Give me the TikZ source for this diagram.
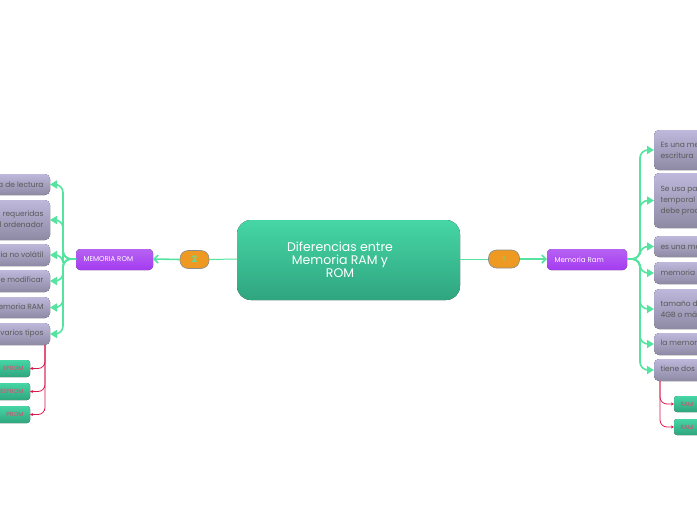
\documentclass[tikz,border=0pt]{standalone}
\usepackage{fontspec}
\setmainfont{Poppins}
\usetikzlibrary{arrows.meta,calc}
\definecolor{gline}{HTML}{55E3A0}
\definecolor{rline}{HTML}{D8194A}
\definecolor{purp}{HTML}{A43BF0}
\definecolor{lavt}{HTML}{BEB8DC}
\definecolor{lavb}{HTML}{8E89A3}
\definecolor{cgt}{HTML}{46D6A6}
\definecolor{cgb}{HTML}{2FA57E}
\definecolor{orng}{HTML}{EE9A22}
\tikzset{
  x=1pt,y=-1pt,
  childbox/.style={rounded corners=5pt,top color=lavt,bottom color=lavb,draw=none},
  ctext/.style={font=\fontsize{7.5}{11}\selectfont,text=black!65,align=left},
  mainbox/.style={rounded corners=4pt,top color=purp!80,bottom color=purp,draw=none},
  subbox/.style={rounded corners=3pt,top color=cgt,bottom color=cgb,draw=none},
  badge/.style={rounded corners=8pt,fill=orng,draw=black!45,line width=0.6pt,minimum width=31pt,minimum height=18pt,inner sep=0pt},
  gconn/.style={draw=gline,line width=1.6pt,rounded corners=8pt,-{Triangle[length=7pt,width=8pt]}},
  rconn/.style={draw=rline,line width=0.8pt,rounded corners=7pt,-{Stealth[length=3pt,width=3pt]}},
}
\begin{document}
\begin{tikzpicture}
\useasboundingbox (0,0) rectangle (697,520);
\clip (0,0) rectangle (697,520);
\fill[white] (0,0) rectangle (697,520);
% central
\fill[rounded corners=14pt,top color=cgt,bottom color=cgb] (237,220) rectangle (460,300);
\node[font=\fontsize{12.5}{13}\selectfont,text=white,align=center] (ct) at (340,260) {Diferencias entre\\Memoria RAM y\\ROM};
\coordinate (cr) at (460,259);
\coordinate (cl) at (237,259);
% right side
\node[badge] (b1) at (504,259) {\fontsize{7}{8}\selectfont\color{gline}1};
\fill[mainbox] (547,249) rectangle (627,270);
\node[font=\fontsize{7}{8}\selectfont,text=white,anchor=west] (mr) at (551,259.5) {Memoria Ram};
\coordinate (mre) at (627,259);
\draw[gline,line width=1pt] (cr) -- (b1.west);
\draw[gline,line width=1.6pt,-{Straight Barb[length=4pt]}] (b1.east) -- (547,259);
% right children
\foreach \n/\ya/\yb/\t in {
 r1/130/170/{Es una memoria de lectura y\\escritura},
 r2/173/228/{Se usa para almacenar datos de forma\\temporal mientras el ordenador\\debe procesarlos},
 r3/236/257/{es una memoria vol\'atil},
 r4/262/284/{memoria de acceso aleatorio},
 r5/289/329/{tama\~no de la memoria de\\4GB o m\'as},
 r6/333/355/{la memoria RAM se puede modificar},
 r7/359/381/{tiene dos tipos}}{
  \fill[childbox] (654,\ya) rectangle (760,\yb);
  \node[ctext,anchor=west] (\n) at (657,{(\ya+\yb)/2}) {\t};
  \coordinate (\n w) at (654,{(\ya+\yb)/2});
  \draw[gconn] (mre) -- (640,259) |- (\n w);
}
\foreach \n/\ya/\yb in {s1/396/412,s2/419/435}{
  \fill[subbox] (674,\ya) rectangle (720,\yb);
  \node[font=\fontsize{6}{7}\selectfont,text=rline!80,anchor=west] (\n) at (677,{(\ya+\yb)/2}) {RAM};
  \coordinate (\n w) at (674,{(\ya+\yb)/2});
  \draw[rconn] (660,381) |- (\n w);
}
% left side
\node[badge,minimum width=29pt] (b2) at (194.5,259.5) {\fontsize{9}{10}\selectfont\bfseries\color{gline}2};
\fill[mainbox] (76,249) rectangle (153,270);
\node[font=\fontsize{7}{8}\selectfont,text=white,anchor=west] (ml) at (80,259.5) {MEMORIA ROM};
\coordinate (mlw) at (76,259);
\draw[gline,line width=1pt] (cl) -- (b2.east);
\draw[gline,line width=1.6pt,-{Straight Barb[length=4pt]}] (b2.west) -- (153,259);
\foreach \n/\ya/\yb/\t in {
 l1/174/195/{memoria de lectura},
 l2/200/240/{no se pierden si ya son requeridas\\por el ordenador},
 l3/244/266/{es una memoria no vol\'atil},
 l4/270/292/{no se puede modificar},
 l5/297/318/{m\'as lenta que la memoria RAM},
 l6/323/345/{tiene varios tipos}}{
  \fill[childbox] (-60,\ya) rectangle (50,\yb);
  \node[ctext,anchor=east,align=right] (\n) at (47,{(\ya+\yb)/2}) {\t};
  \coordinate (\n e) at (50,{(\ya+\yb)/2});
  \draw[gconn] (mlw) -- (63,259) |- (\n e);
}
\foreach \n/\ya/\yb/\t in {p1/360/377/{EPROM},p2/383/400/{EEPROM},p3/406/423/{PROM}}{
  \fill[subbox] (-20,\ya) rectangle (30,\yb);
  \node[font=\fontsize{6}{7}\selectfont,text=rline!80,anchor=east] (\n) at (27,{(\ya+\yb)/2}) {\t};
  \coordinate (\n e) at (30,{(\ya+\yb)/2});
  \draw[rconn] (45,345) |- (\n e);
}
\end{tikzpicture}
\end{document}
